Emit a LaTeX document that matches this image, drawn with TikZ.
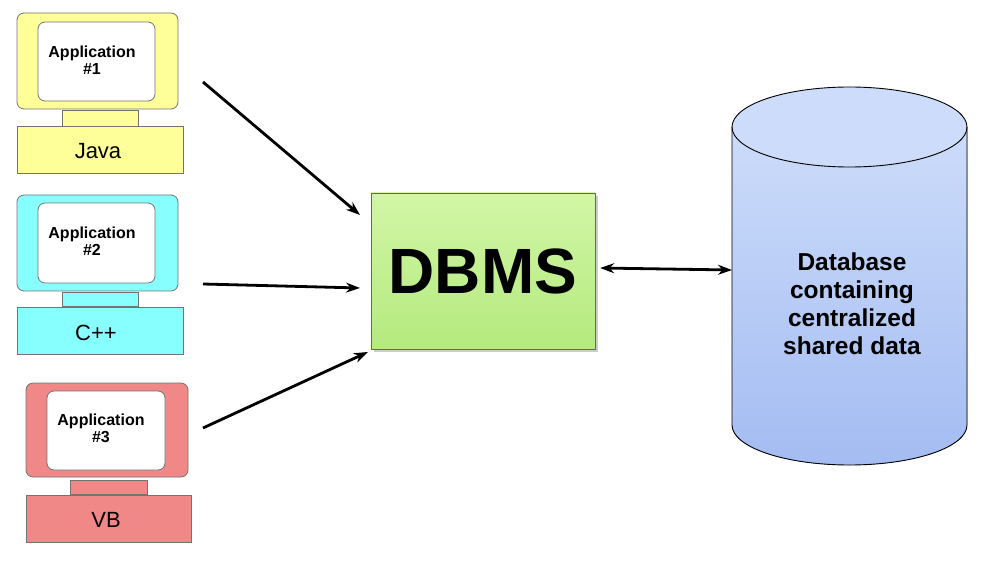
\documentclass[tikz,border=0pt]{standalone}
\usepackage{fontspec}
\setmainfont{Liberation Sans}
\usetikzlibrary{arrows.meta,shadows}
\definecolor{cy}{HTML}{FFFF99}
\definecolor{cc}{HTML}{88FFFF}
\definecolor{cr}{HTML}{F08888}
\definecolor{gtop}{HTML}{D2F6A6}
\definecolor{gbot}{HTML}{B4EA7E}
\definecolor{btop}{HTML}{CCDCFA}
\definecolor{bbot}{HTML}{A4BCF2}
\tikzset{
  mon/.style={draw=black!55,line width=0.8pt,rounded corners=7pt},
  scr/.style={draw=black!55,fill=white,line width=0.8pt,rounded corners=7pt},
  part/.style={draw=black!55,line width=0.8pt},
  app/.style={font=\bfseries\fontsize{16}{17}\selectfont,align=center},
  lab/.style={font=\fontsize{22}{24}\selectfont},
  >={Stealth[length=14pt,width=10pt]},
  arr/.style={->,line width=2.8pt}
}
\begin{document}
\begin{tikzpicture}[x=1pt,y=-1pt]
\useasboundingbox (0,0) rectangle (986,572);
% computer 1
\draw[mon,fill=cy] (17,13) rectangle (178,109);
\node[scr,minimum width=117pt,minimum height=79pt] (s1) at (96.5,61.5) {};
\node[app] (t1) at (92,60) {Application\\\#1};
\draw[part,fill=cy] (62,110) rectangle (138,126);
\draw[part,fill=cy] (17,126) rectangle (183,173);
\node[lab] (j) at (98,151) {Java};
% computer 2
\draw[mon,fill=cc] (17,195) rectangle (178,291);
\node[scr,minimum width=117pt,minimum height=80pt] (s2) at (96.5,243) {};
\node[app] (t2) at (92,241) {Application\\\#2};
\draw[part,fill=cc] (62,292) rectangle (138,306);
\draw[part,fill=cc] (17,307) rectangle (183,354);
\node[lab] (c) at (96,333) {C++};
% computer 3
\draw[mon,fill=cr] (26,383) rectangle (188,477);
\node[scr,minimum width=118pt,minimum height=79pt] (s3) at (106,430.5) {};
\node[app] (t3) at (101,428) {Application\\\#3};
\draw[part,fill=cr] (70,480) rectangle (147,494);
\draw[part,fill=cr] (26,495) rectangle (191,542);
\node[lab] (v) at (106,520) {VB};
% DBMS
\node[draw=black!60,top color=gtop,bottom color=gbot,drop shadow={shadow xshift=3pt,shadow yshift=-3pt,opacity=0.4},minimum width=224pt,minimum height=156pt,font=\bfseries\fontsize{64}{68}\selectfont] (d) at (483,271) {DBMS};
% cylinder
\coordinate (cylL) at (732,270);
\fill[top color=btop,bottom color=bbot] (732,127) -- (732,425) arc[start angle=180,end angle=0,x radius=117.5,y radius=40] -- (967,127) -- cycle;
\fill[btop] (849.5,127) ellipse[x radius=117.5,y radius=40];
\draw[black,line width=0.9pt] (732,127) -- (732,425) arc[start angle=180,end angle=0,x radius=117.5,y radius=40] -- (967,127);
\draw[black,line width=0.9pt] (849.5,127) ellipse[x radius=117.5,y radius=40];
\node[font=\bfseries\fontsize{24.5}{28}\selectfont,align=center] (db) at (852,304) {Database\\containing\\centralized\\shared data};
% arrows
\coordinate (a1) at (203,82);
\coordinate (a2) at (203,284);
\coordinate (a3) at (203,428);
\draw[arr] (a1) -- (360,215);
\draw[arr] (a2) -- (360,288);
\draw[arr] (a3) -- (368,352);
\draw[arr,<->] (d.east)+(5,-3) -- (cylL);
\end{tikzpicture}
\end{document}
